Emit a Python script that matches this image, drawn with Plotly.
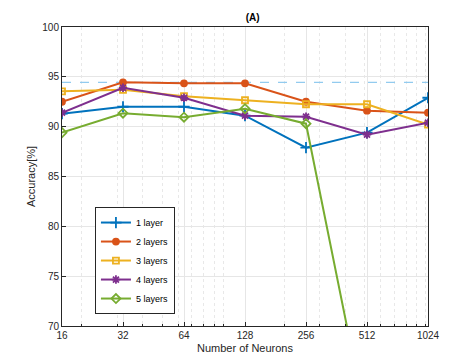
import plotly.graph_objects as go

neurons = [16, 32, 64, 128, 256, 512, 1024]
tick_labels = ["16", "32", "64", "128", "256", "512", "1024"]
layer1 = [91.3, 92.0, 92.0, 91.1, 87.9, 89.4, 92.9]
layer2 = [92.5, 94.45, 94.35, 94.35, 92.5, 91.6, 91.4]
layer3 = [93.55, 93.7, 93.05, 92.65, 92.25, 92.25, 90.2]
layer4 = [91.4, 93.9, 92.9, 91.1, 91.0, 89.2, 90.4]
layer5 = [89.4, 91.35, 90.95, 91.8, 90.3, 60.0, 55.0]
best_level = 94.45

series = [
    ("1 layer", layer1, "#0072BD", "cross-thin-open", 8),
    ("2 layers", layer2, "#D95319", "circle", 6),
    ("3 layers", layer3, "#EDB120", "square-open", 6),
    ("4 layers", layer4, "#7E2F8E", "asterisk-open", 7),
    ("5 layers", layer5, "#77AC30", "diamond-open", 7),
]

fig = go.Figure()
fig.add_trace(go.Scatter(x=[neurons[0], neurons[-1]], y=[best_level, best_level],
                         mode="lines", line=dict(color="#92cbef", width=1.2, dash="dash"),
                         showlegend=False, hoverinfo="skip"))
for name, vals, color, sym, sz in series:
    fig.add_trace(go.Scatter(
        x=neurons, y=vals, name=name, mode="lines+markers",
        line=dict(color=color, width=2),
        marker=dict(symbol=sym, size=sz, color=color, line=dict(color=color, width=1.8)),
    ))

minor_vals = [20, 30, 40, 50, 60, 70, 80, 90, 100, 200, 300, 400, 500, 600, 700, 800, 900, 1000]

# page body adds an 8px offset; the figure is shrunk so the plot lands where the reference has it
fig.update_layout(
    width=466, height=356,
    margin=dict(l=54, r=46, t=19, b=38),
    paper_bgcolor="white", plot_bgcolor="white",
    font=dict(family="Liberation Sans, Arial, sans-serif", size=10, color="#262626"),
    title=dict(text="<b>(A)</b>", x=0.525, xanchor="center", y=0.972, yanchor="middle",
               font=dict(size=10, color="#000")),
    showlegend=True,
    legend=dict(x=0.09, y=0.04, xanchor="left", yanchor="bottom",
                bgcolor="white", bordercolor="#262626", borderwidth=1,
                font=dict(size=9, color="#000"), itemwidth=30,
                tracegroupgap=0),
    xaxis=dict(type="log", range=[1.2041, 3.0103],
               tickmode="array", tickvals=neurons, ticktext=tick_labels,
               showgrid=True, gridcolor="#e6e6e6", gridwidth=1,
               ticks="inside", ticklen=4, tickcolor="#262626",
               showline=True, linecolor="#262626", linewidth=1, mirror=True,
               minor=dict(tickvals=minor_vals, showgrid=True, gridcolor="#e8e8e8",
                          griddash="dot", ticks="inside", ticklen=2, tickcolor="#262626"),
               title=dict(text="Number of Neurons", font=dict(size=11), standoff=4),
               zeroline=False),
    yaxis=dict(range=[70, 100], tickvals=[70, 75, 80, 85, 90, 95, 100],
               showgrid=True, gridcolor="#e6e6e6", gridwidth=1,
               ticks="inside", ticklen=4, tickcolor="#262626",
               showline=True, linecolor="#262626", linewidth=1, mirror=True,
               title=dict(text="Accuracy[%]", font=dict(size=11), standoff=4),
               zeroline=False),
)

fig.write_html("out.html")
